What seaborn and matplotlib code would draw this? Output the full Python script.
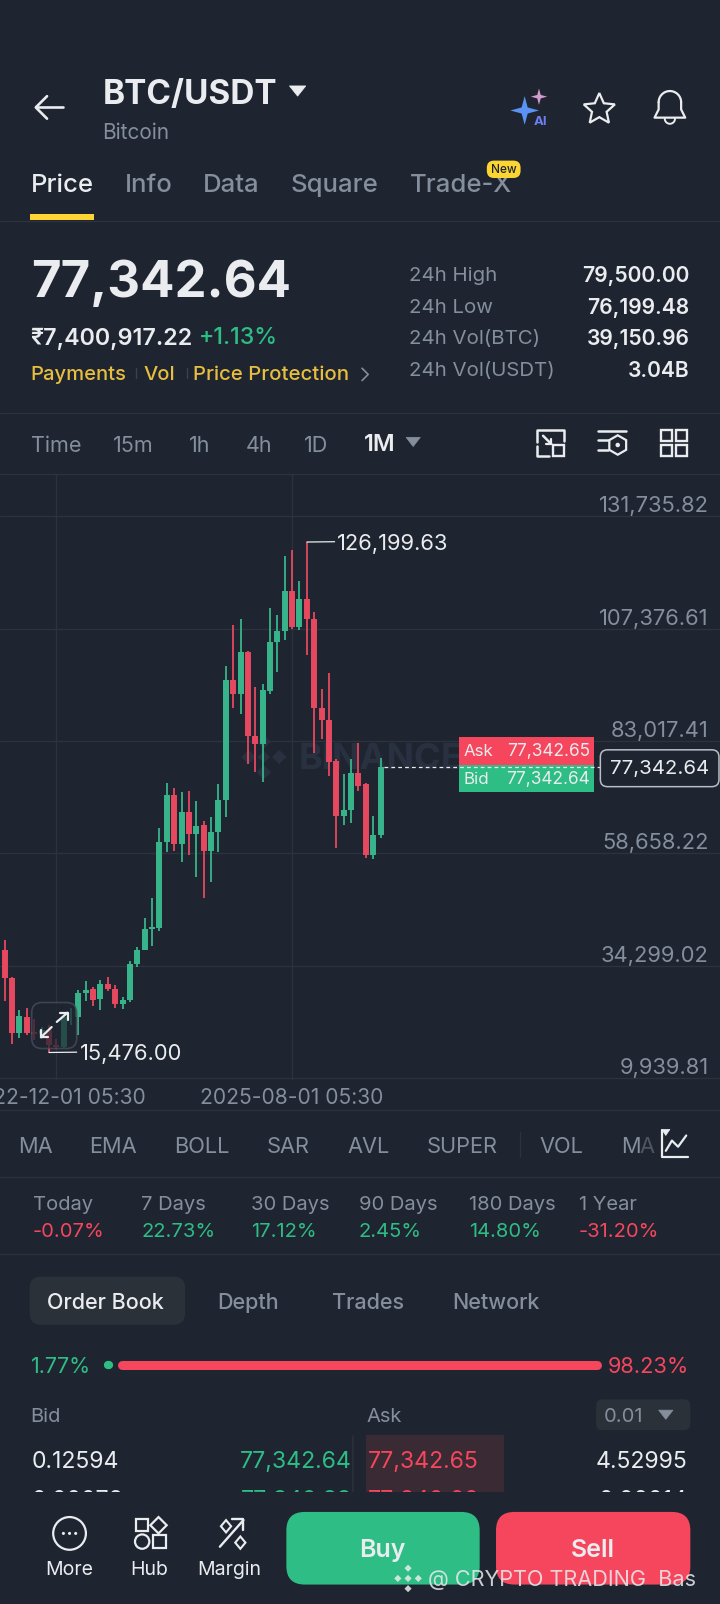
import numpy as np
import pandas as pd
import matplotlib.pyplot as plt
import seaborn as sns
from matplotlib.patches import FancyBboxPatch, Polygon, Circle, Rectangle

# monthly candles, May 2022 to Aug 2026
months = pd.date_range("2022-05-01", periods=52, freq="MS")
opens = [37600, 31700, 19700, 23100, 20000, 19400, 20400, 17200, 16600, 23100, 23200, 28300, 29200, 27100,
         30400, 29200, 25900, 26900, 34600, 37700, 42300, 42400, 61200, 71300, 60700, 67560, 62850, 64800,
         59150, 63350, 70200, 96200, 93300, 102400, 84100, 82300, 93900, 104500, 106950, 115600, 107800,
         113900, 109400, 90150, 87550, 78700, 66700, 68000, 76200, 73650, 58250, 62650]
closes = [31650, 19700, 23300, 19700, 19400, 20400, 17200, 16600, 23100, 23200, 28350, 29100, 26900, 30400,
          29200, 25900, 26900, 34600, 37700, 42300, 42600, 61200, 71300, 60700, 67560, 62850, 64700, 59150,
          63350, 70300, 96200, 93300, 102300, 84150, 82350, 94050, 104500, 106950, 115600, 107800, 113900,
          109400, 90150, 87550, 78500, 66700, 68000, 76200, 73350, 58250, 62650, 77342.64]
highs = [39900, 31850, 24600, 25050, 22800, 21000, 21400, 18300, 23900, 25200, 29100, 30900, 29700, 31300,
         31800, 30200, 27500, 35300, 38400, 44700, 48900, 64100, 73900, 72800, 72050, 72100, 70100, 65750,
         66450, 73700, 99400, 108150, 109450, 102600, 94800, 95500, 111800, 110350, 123150, 124450, 117800,
         126199.63, 111050, 94400, 97700, 79200, 75800, 79200, 82700, 73950, 66700, 79250]
lows = [26550, 17350, 18600, 19200, 18200, 18300, 15476.00, 16300, 16500, 21400, 19300, 26700, 25650, 24750,
        28900, 25200, 24900, 26500, 34100, 37600, 38600, 41850, 59000, 59250, 56700, 58350, 53450, 48900,
        52500, 59000, 66550, 90300, 89000, 78000, 76350, 74150, 93200, 98050, 104900, 107250, 107100,
        101800, 80450, 83550, 75450, 59750, 64750, 65350, 72200, 57750, 57500, 62050]

tick_months = ["2022-12-01", "2025-08-01"]
tick_labels = ["2022-12-01 05:30", "2025-08-01 05:30"]
price_ticks = [131735.82, 107376.61, 83017.41, 58658.22, 34299.02, 9939.81]

stat_names = ["Today", "7 Days", "30 Days", "90 Days", "180 Days", "1 Year"]
stat_values = ["-0.07%", "22.73%", "17.12%", "2.45%", "14.80%", "-31.20%"]
range_names = ["24h High", "24h Low", "24h Vol(BTC)", "24h Vol(USDT)"]
range_values = ["79,500.00", "76,199.48", "39,150.96", "3.04B"]

BG = "#1E2530"
LINE = "#2C333D"
GREY = "#848E9C"
WHITE = "#EAECEF"
GREEN = "#2EBD85"
RED = "#F6465D"
C_GREEN = "#38B48B"
C_RED = "#E5485F"
YEL = "#E8BE3E"

sns.set_theme(style="darkgrid", rc={"axes.facecolor": "none", "figure.facecolor": BG, "grid.color": LINE,
                                    "grid.linewidth": 1.0, "axes.edgecolor": BG, "patch.edgecolor": "none"})
plt.rcParams["font.family"] = ["Inter", "DejaVu Sans"]

fig = plt.figure(figsize=(7.2, 16.04), dpi=100)

# candles: one long table per layer, hue picks the colour
rows = pd.DataFrame({"i": range(len(months)), "o": opens, "c": closes, "h": highs, "l": lows})
rows["side"] = np.where(rows.c >= rows.o, "up", "down")
wicks = rows.melt(id_vars=["i", "side"], value_vars=["h", "l"], value_name="price")
bodies = rows.melt(id_vars=["i", "side"], value_vars=["o", "c"], value_name="price")

ax = fig.add_axes([0, 1 - 1080 / 1604, 1, (1080 - 474) / 1604], zorder=1)
pal = {"up": C_GREEN, "down": C_RED}
sns.lineplot(data=wicks, x="i", y="price", units="i", estimator=None, hue="side", palette=pal,
             lw=1.3, legend=False, ax=ax, solid_capstyle="butt")
sns.lineplot(data=bodies, x="i", y="price", units="i", estimator=None, hue="side", palette=pal,
             lw=4.3, legend=False, ax=ax, solid_capstyle="butt")
ax.set_xlim(-0.634, 97.06)
ax.set_ylim(9506, 140954)
ax.set_xlabel("")
ax.set_ylabel("")
ax.set_xticks([list(months.strftime("%Y-%m-%d")).index(t) for t in tick_months])
ax.set_xticklabels(tick_labels, fontsize=15.1, color=GREY)
ax.yaxis.tick_right()
ax.set_yticks(price_ticks)
ax.set_yticklabels([f"{v:,.2f}" for v in price_ticks], fontsize=15.8, color=GREY, ha="right", va="bottom")
ax.tick_params(axis="y", length=0, pad=-8)
ax.tick_params(axis="x", length=0, pad=6)
for s in ax.spines.values():
    s.set_visible(False)

# max / min callouts
hi = int(np.argmax(highs))
lo = int(np.argmin(lows))
for idx, val, off in [(hi, highs[hi], 22), (lo, lows[lo], 22)]:
    ax.annotate(f"{val:,.2f}", xy=(idx, val), xytext=(off, -1.2), textcoords="offset points", va="center",
                color=WHITE, fontsize=15.8,
                arrowprops=dict(arrowstyle="-", color=WHITE, lw=0.9, shrinkA=0, shrinkB=0, relpos=(0, 0.6)))

# everything else is drawn in the picture's own pixel grid
ui = fig.add_axes([0, 0, 1, 1], zorder=2)
ui.set_xlim(0, 704)
ui.set_ylim(1568, 0)
ui.axis("off")
ui.grid(False)


def T(x, y, s, size=15, color=WHITE, ha="left", weight="normal", **kw):
    return ui.text(x, y + size * 0.11, s, fontsize=size, color=color, ha=ha, va="center", fontweight=weight, **kw)


def box(x0, y0, x1, y1, r=6, fc=BG, ec="none", lw=1, alpha=None, z=2):
    p = FancyBboxPatch((x0 + r, y0 + r), x1 - x0 - 2 * r, y1 - y0 - 2 * r, boxstyle=f"round,pad={r},rounding_size={r}",
                       fc=fc, ec=ec, lw=lw, alpha=alpha, zorder=z)
    ui.add_patch(p)


def rect(x, y, w, h, fc="none", ec="none", lw=1.7, z=3):
    ui.add_patch(Rectangle((x, y), w, h, fc=fc, ec=ec, lw=lw, zorder=z))


def L(xs, ys, color=WHITE, lw=1.5, z=3, **kw):
    ui.plot(xs, ys, color=color, lw=lw, zorder=z, solid_capstyle="round", **kw)


def arc(cx, cy, r, a0, a1, **kw):
    t = np.radians(np.linspace(a0, a1, 40))
    L(cx + r * np.cos(t), cy + r * np.sin(t), **kw)


def tri(x, y, w, h, color):
    ui.add_patch(Polygon([(x - w, y - h), (x + w, y - h), (x, y + h)], fc=color, ec=color, lw=0.5, zorder=3))


def sparkle(x, y, r, color):
    t = np.radians(np.arange(0, 360, 45))
    rad = np.where(np.arange(8) % 2 == 0, r, r * 0.3)
    ui.add_patch(Polygon(np.c_[x + rad * np.cos(t), y + rad * np.sin(t)], fc=color, ec="none", zorder=3))


# watermark sits under the candles
wm = "#293140"
ax.text(292, 742, "BINANCE", transform=ui.transData, fontsize=26, color=wm, va="center", fontweight="bold", zorder=0.6)
for dx, dy, r in [(0, -15, 7), (0, 15, 7), (-15, 0, 7), (15, 0, 7), (0, 0, 6)]:
    ax.add_patch(Polygon([(258 + dx, 740 + dy - r), (258 + dx + r, 740 + dy), (258 + dx, 740 + dy + r), (258 + dx - r, 740 + dy)],
                         transform=ui.transData, fc=wm, ec="none", zorder=0.6))

# header
L([35, 62], [105, 105], lw=1.9)
L([46, 35, 46], [94, 105, 116], lw=1.9)
T(100, 90, "BTC/USDT", 24, weight="bold")
tri(291, 89, 8, 5, WHITE)
T(100, 128, "Bitcoin", 15, GREY)
sparkle(513, 108, 14, "#5A93F5")
sparkle(527, 94.5, 8, "#D49BD0")
T(528.5, 118, "AI", 9.5, "#6C7FF0", ha="center", weight="bold")
t = np.radians(np.arange(-90, 270, 36))
rad = np.where(np.arange(10) % 2 == 0, 16, 7.5)
ui.add_patch(Polygon(np.c_[586 + rad * np.cos(t), 107 + rad * np.sin(t)], fc="none", ec=WHITE, lw=1.6, zorder=3))
arc(655, 100, 11, 180, 360, lw=1.6)
L([644, 644, 640, 670, 666, 666], [100, 107, 115, 115, 107, 100], lw=1.6)
arc(655, 116, 5, 0, 180, lw=1.4)

# tabs
for x, s, c in [(30, "Price", WHITE), (122, "Info", GREY), (198, "Data", GREY), (284, "Square", GREY), (401, "Trade-X", GREY)]:
    T(x, 179, s, 18.5, c, weight="medium")
box(476, 157, 509, 174, r=7, fc="#FCD535", z=4)
T(492.5, 165, "New", 8.5, "#1E2329", ha="center", weight="medium", zorder=5)
rect(29, 209, 63, 6, fc="#FCD535")
for y in [216, 404, 463, 1085, 1151, 1226]:
    L([0, 704], [y, y], LINE, 1.0, z=1)

# price block
T(30, 273, "77,342.64", 36.6, WHITE, weight="bold")
T(30, 329, "₹7,400,917.22", 16.8, WHITE, weight="semibold")
T(194, 329, "+1.13%", 16.6, GREEN, weight="medium")
T(30, 365, "Payments", 14.5, YEL, weight="medium")
T(140, 365, "Vol", 14.5, YEL, weight="medium")
T(189, 365, "Price Protection", 14.7, YEL, weight="medium")
L([133, 133], [360, 370], "#3A424E", 1)
L([183, 183], [360, 370], "#3A424E", 1)
L([354, 360, 354], [360, 366, 372], GREY, 1.2)
for y, a, b in zip([268, 299, 330, 361], range_names, range_values):
    T(400, y, a, 14.7, GREY)
    T(674, y, b, 15.2, WHITE, ha="right", weight="semibold")

# interval row
for x, s in [(30, "Time"), (110, "15m"), (185, "1h"), (240, "4h"), (297, "1D")]:
    T(x, 434, s, 15.5, GREY)
T(356, 433, "1M", 17, WHITE, weight="semibold")
tri(404, 432, 7, 4.5, GREY)
L([525, 525, 551, 551], [432, 420.5, 420.5, 431], lw=1.8)
L([525, 525, 537], [436, 445.5, 445.5], lw=1.8)
rect(541, 435, 10, 10.5, ec=WHITE)
L([531, 539], [426, 434], lw=1.8)
L([534, 539, 539], [434, 434, 429], lw=1.6)
L([585, 612], [421.5, 421.5], lw=1.8)
L([585, 594], [430.5, 430.5], lw=1.8)
L([585, 594], [439.5, 439.5], lw=1.8)
t = np.radians(np.arange(-90, 270, 60))
ui.add_patch(Polygon(np.c_[604 + 9.5 * np.cos(t), 435 + 9.5 * np.sin(t)], fc="none", ec=WHITE, lw=1.6, zorder=3))
ui.add_patch(Circle((604, 435), 2.2, fc=WHITE, zorder=3))
for x in [646.5, 661]:
    for y in [420.5, 435]:
        rect(x, y, 10.5, 10.5, ec=WHITE)

# live price boxes
rect(449, 720, 132, 27.5, fc=RED, z=2)
rect(449, 747.5, 132, 26.5, fc=GREEN, z=2)
T(453, 733, "Ask", 12.2, WHITE, zorder=4)
T(577, 733, "77,342.65", 12.4, WHITE, ha="right", zorder=4)
T(453, 761, "Bid", 12.2, WHITE, zorder=4)
T(577, 761, "77,342.64", 12.4, WHITE, ha="right", zorder=4)
L([375, 587], [750, 750], WHITE, 0.9, z=3, ls=(0, (3, 2.5)))
box(587, 733, 703, 769, r=7, fc=BG, ec="#B9BEC6", lw=1.1, z=4)
T(645, 750.5, "77,342.64", 14.7, WHITE, ha="center", zorder=5)

# expand button over the candles
box(31, 980, 75, 1025, r=10, fc=BG, ec="#4A525E", lw=1.2, alpha=0.72, z=2)
L([40, 50.5], [1014, 1004], lw=1.6)
L([40, 40, 47], [1007, 1014, 1014], lw=1.6)
L([55.5, 66], [999, 990], lw=1.6)
L([59, 66, 66], [990, 990, 997], lw=1.6)

# indicators
for x, s in [(18, "MA"), (87, "EMA"), (170, "BOLL"), (261, "SAR"), (340, "AVL"), (417, "SUPER"), (527, "VOL")]:
    T(x, 1120, s, 15.7, GREY)
T(607, 1120, "M", 15.7, GREY)
T(625, 1120, "A", 15.7, "#4E5662")
L([508, 508], [1107, 1131], LINE, 1)
L([647, 647, 673], [1105, 1131, 1131], lw=1.6)
L([651, 657, 663, 671], [1125, 1115, 1121, 1110], lw=1.6)
tri(651, 1107, 4, 3, WHITE)

# period stats
for x, a, b in zip([32, 138, 245, 351, 459, 566], stat_names, stat_values):
    T(x, 1176, a, 14.5, GREY)
    T(x, 1203, b, 14.5, RED if b.startswith("-") else GREEN)

# order book
box(29, 1248, 181, 1295, r=11, fc="#2B3139")
T(46, 1272, "Order Book", 15.5, WHITE, weight="medium")
for x, s in [(212, "Depth"), (325, "Trades"), (442, "Network")]:
    T(x, 1272, s, 15.5, GREY, weight="medium")
T(30, 1335, "1.77%", 15.5, GREEN)
T(674, 1335, "98.23%", 15.7, RED, ha="right")
ui.plot([106, 107], [1334, 1334], color=GREEN, lw=6, solid_capstyle="round", zorder=3)
ui.plot([119, 584], [1334, 1334], color=RED, lw=6.5, solid_capstyle="round", zorder=3)
T(30, 1384, "Bid", 14.5, GREY)
T(358, 1384, "Ask", 14.5, GREY)
box(583, 1368, 675, 1398, r=6, fc="#2B3139")
T(590, 1384, "0.01", 14.5, GREY)
tri(651, 1383, 7, 4.5, GREY)
rect(358, 1403, 135, 56, fc="#3A2A33", z=1)
L([345, 345], [1404, 1459], "#2B3139", 1.2, z=1)
for y, bq, bp, ap, aq in [(1427, "0.12594", "77,342.64", "77,342.65", "4.52995"),
                          (1465, "0.00078", "77,342.33", "77,342.66", "0.00014")]:
    T(31, y, bq, 16.6, WHITE)
    T(344, y, bp, 16.6, GREEN, ha="right")
    T(360, y, ap, 16.6, RED)
    T(672, y, aq, 16.6, WHITE, ha="right")
rect(0, 1459, 704, 109, fc=BG, z=3.5)

# bottom bar
z = 4
ui.add_patch(Circle((68, 1499), 16, fc="none", ec=WHITE, lw=1.6, zorder=z))
for dx in [-6, 0, 6]:
    ui.add_patch(Circle((68 + dx, 1499), 1.5, fc=WHITE, zorder=z))
rect(133, 1485, 12, 12, ec=WHITE, lw=1.6, z=z)
ui.add_patch(Polygon([(155, 1483), (163, 1491), (155, 1499), (147, 1491)], fc="none", ec=WHITE, lw=1.6, zorder=z))
ui.add_patch(Circle((139, 1507), 7, fc="none", ec=WHITE, lw=1.6, zorder=z))
rect(150, 1501, 12, 12, ec=WHITE, lw=1.6, z=z)
L([215, 238], [1512, 1486], lw=1.7, z=z)
L([227, 238, 238], [1485, 1485, 1496], lw=1.7, z=z)
ui.add_patch(Polygon([(221, 1486), (226, 1492), (221, 1498), (216, 1492)], fc="none", ec=WHITE, lw=1.5, zorder=z))
ui.add_patch(Polygon([(235, 1502), (240, 1508), (235, 1514), (230, 1508)], fc="none", ec=WHITE, lw=1.5, zorder=z))
for x, s in [(68, "More"), (146, "Hub"), (224, "Margin")]:
    T(x, 1533, s, 14, WHITE, ha="center", zorder=z)
box(280, 1478, 469, 1549, r=18, fc=GREEN, z=4)
box(485, 1478, 675, 1549, r=18, fc=RED, z=4)
T(374, 1514, "Buy", 18, WHITE, ha="center", weight="semibold", zorder=5)
T(580, 1514, "Sell", 18, WHITE, ha="center", weight="semibold", zorder=5)

# user watermark
for dx, dy in [(0, -10), (0, 10), (-10, 0), (10, 0), (0, 0)]:
    ui.add_patch(Polygon([(399 + dx, 1543 + dy - 3.5), (399 + dx + 3.5, 1543 + dy), (399 + dx, 1543 + dy + 3.5), (399 + dx - 3.5, 1543 + dy)],
                         fc=WHITE, ec="none", alpha=0.85, zorder=6))
T(418, 1543, "@ CRYPTO TRADING  Bas", 15.6, WHITE, alpha=0.85, zorder=6)

fig.savefig("out.png", dpi=100, facecolor=BG)
